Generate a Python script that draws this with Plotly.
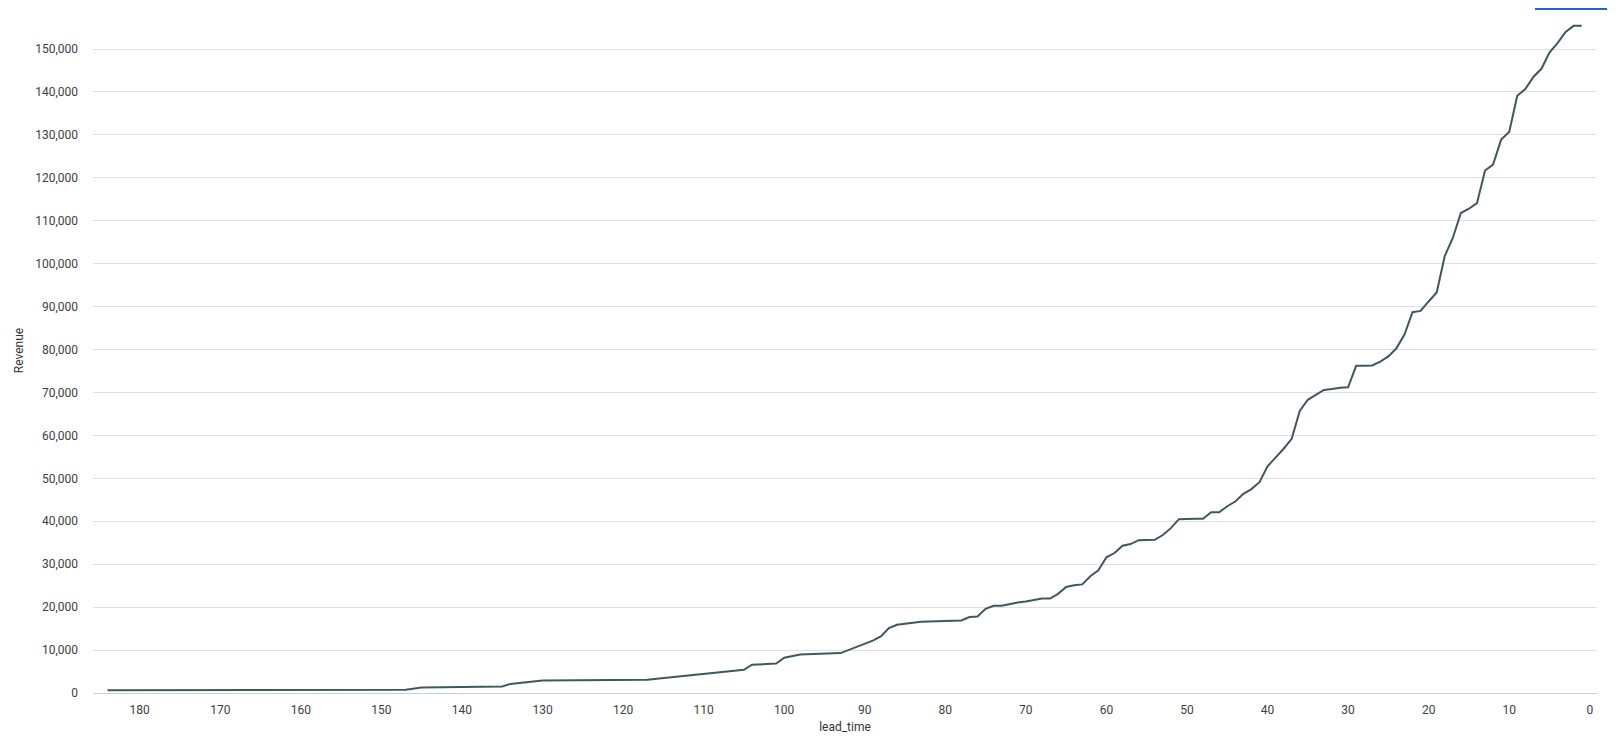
import plotly.graph_objects as go

lead_time = [184, 147, 145, 135, 134, 130, 117, 116, 110, 109, 105, 104, 101, 100, 98, 93,
             89, 88, 87, 86, 83, 78, 77, 76, 75, 74, 73, 71, 70, 68, 67, 66, 65, 64, 63, 62,
             61, 60, 59, 58, 57, 56, 55, 54, 53, 52, 51, 50, 49, 48, 47, 46, 45, 44, 43, 42,
             41, 40, 39, 38, 37, 36, 35, 34, 33, 32, 31, 30, 29, 28, 27, 26, 25, 24, 23, 22,
             21, 20, 19, 18, 17, 16, 15, 14, 13, 12, 11, 10, 9, 8, 7, 6, 5, 4, 3, 2, 1]
revenue_k = [0.65, 0.78, 1.3, 1.5, 2.1, 2.9, 3.1, 3.3, 4.5, 4.6, 5.4, 6.6, 6.85, 8.2, 8.95, 9.3,
             12.2, 13.2, 15.1, 15.9, 16.6, 16.9, 17.7, 17.8, 19.6, 20.3, 20.3, 21.1, 21.3, 22.0, 22.0, 23.1, 24.7, 25.1, 25.3, 27.2,
             28.6, 31.6, 32.6, 34.3, 34.7, 35.6, 35.7, 35.7, 36.8, 38.4, 40.5, 40.6, 40.6, 40.6, 42.1, 42.1, 43.5, 44.6, 46.4, 47.5,
             49.1, 52.8, 54.8, 56.9, 59.2, 65.7, 68.3, 69.5, 70.6, 70.8, 71.1, 71.2, 76.2, 76.2, 76.3, 77.2, 78.4, 80.3, 83.5, 88.7,
             89.0, 91.2, 93.3, 101.8, 106.0, 111.8, 112.8, 114.1, 121.7, 123.1, 128.9, 130.7, 139.1, 140.7, 143.5, 145.4, 149.2, 151.4, 154.0, 155.4, 155.4]
revenue = [v * 1000 for v in revenue_k]

x_ticks = [180, 170, 160, 150, 140, 130, 120, 110, 100, 90, 80, 70, 60, 50, 40, 30, 20, 10, 0]
y_ticks = list(range(0, 150001, 10000))

fig = go.Figure()
fig.add_trace(go.Scatter(
    x=lead_time, y=revenue, mode="lines",
    line=dict(color="#41575f", width=2),
    hovertemplate="%{x}: %{y:,}<extra></extra>",
))

font_color = "#3c4043"
W, H = 1613, 732
L, R, T, B = 85, 24, 0, 47
fig.update_layout(
    width=W, height=H,
    margin=dict(l=L, r=R, t=T, b=B, pad=0),
    paper_bgcolor="white", plot_bgcolor="white",
    font=dict(family="Roboto, Arial, sans-serif", size=12, color=font_color),
    showlegend=False,
    xaxis=dict(
        range=[185.8, -0.9], tickvals=x_ticks, showgrid=False, zeroline=False,
        showline=True, linecolor="#c9ced6", linewidth=1,
        ticks="", ticklabelstandoff=6,
        title=dict(text="lead_time", standoff=6, font=dict(size=12, color="#333333")),
        automargin=False,
    ),
    yaxis=dict(
        range=[0, 159560], tickvals=y_ticks, tickformat=",",
        showgrid=True, gridcolor="#e0e0e0", gridwidth=1, zeroline=False,
        ticks="", ticklabelstandoff=14,
        title=dict(text="Revenue", standoff=8, font=dict(size=12, color="#333333")),
        automargin=False,
    ),
    shapes=[dict(
        type="rect", xref="paper", yref="paper",
        x0=(1535 - 8 - L) / (W - L - R), x1=(1607 - 8 - L) / (W - L - R),
        y0=(H - B - 2) / (H - B - T), y1=1.0,
        fillcolor="#1967d2", line=dict(width=0),
    )],
)

fig.write_html("out.html")
